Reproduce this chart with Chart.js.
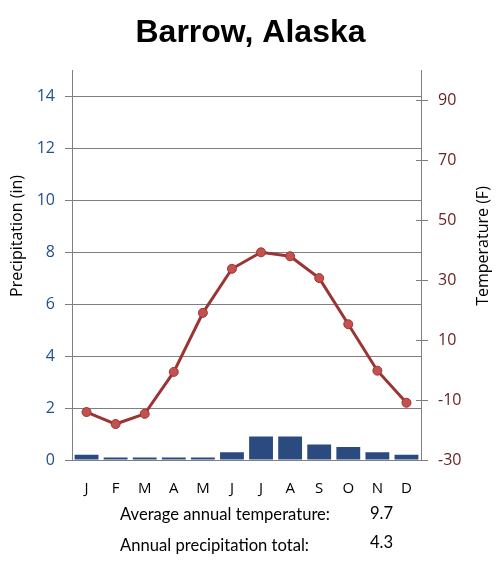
<!DOCTYPE html>
<html>
<head>
<meta charset="utf-8">
<script src="https://cdn.jsdelivr.net/npm/chart.js@4.4.0/dist/chart.umd.min.js"></script>
<style>
    body { margin: 0; background: #fff; }
    #wrap { position: relative; width: 501px; height: 575px; }
    #grafico { position: absolute; left: 0; top: 0; }
    .rodape { position: absolute; font-family: Lato, "Open Sans", sans-serif; font-size: 16.6px; line-height: 20px; color: #000; }
</style>
</head>
<body>
<div id="wrap">
    <canvas id="grafico" width="501" height="575"></canvas>
    <div class="rodape" style="left:120px; top:504px;">Average annual temperature:</div>
    <div class="rodape" style="left:370px; top:503px;">9.7</div>
    <div class="rodape" style="left:120px; top:535px;">Annual precipitation total:</div>
    <div class="rodape" style="left:370px; top:532px;">4.3</div>
</div>
<script>
var meses = ["J", "F", "M", "A", "M", "J", "J", "A", "S", "O", "N", "D"];
var precipitacao = [0.2, 0.1, 0.1, 0.1, 0.1, 0.3, 0.9, 0.9, 0.6, 0.5, 0.3, 0.2];
var temperatura = [-14, -18, -14.6, -0.6, 19.1, 33.8, 39.3, 38, 30.7, 15.3, -0.2, -10.9];
var ticksPrecip = [0, 2, 4, 6, 8, 10, 12, 14];
var ticksTemp = [-30, -10, 10, 30, 50, 70, 90];

// titulos dos eixos, rodados para ler de baixo para cima
// + tracinhos do eixo da direita para dentro da area
var titulosEixos = {
    id: 'titulosEixos',
    afterDraw: function (chart) {
        var ctx = chart.ctx;
        var area = chart.chartArea;
        var eixoT = chart.scales.y2;

        ctx.save();
        ctx.strokeStyle = '#7f7f7f';
        ctx.lineWidth = 1;
        for (var i = 0; i < ticksTemp.length; i++) {
            var py = Math.round(eixoT.getPixelForValue(ticksTemp[i])) + 0.5;
            ctx.beginPath();
            ctx.moveTo(area.right - 5, py);
            ctx.lineTo(area.right, py);
            ctx.stroke();
        }
        ctx.restore();

        ctx.save();
        ctx.fillStyle = '#000';
        ctx.font = '16px "Open Sans"';
        ctx.textAlign = 'center';
        ctx.textBaseline = 'middle';
        ctx.translate(17, 236);
        ctx.rotate(-Math.PI / 2);
        ctx.fillText('Precipitation (in)', 0, 0);
        ctx.restore();

        ctx.save();
        ctx.fillStyle = '#000';
        ctx.font = '16px "Open Sans"';
        ctx.textAlign = 'center';
        ctx.textBaseline = 'middle';
        ctx.translate(483, 246);
        ctx.rotate(-Math.PI / 2);
        ctx.fillText('Temperature (F)', 0, 0);
        ctx.restore();
    }
};

function makeChart() {
    var canvas = document.getElementById("grafico");

    var dataChuva = {
        type: 'bar',
        label: "Precipitation",
        data: precipitacao,
        yAxisID: 'y',
        backgroundColor: '#2a4a80',
        barPercentage: 0.82,
        categoryPercentage: 1,
        order: 2
    };

    var dataTemp = {
        type: 'line',
        label: "Temperature",
        data: temperatura,
        yAxisID: 'y2',
        borderColor: '#9b3533',
        borderWidth: 3,
        pointRadius: 4.5,
        pointBackgroundColor: '#c4514e',
        pointBorderColor: '#9b3533',
        pointBorderWidth: 1,
        tension: 0,
        order: 1
    };

    var corGrelha = '#7f7f7f';

    new Chart(canvas, {
        data: {
            labels: meses,
            datasets: [dataChuva, dataTemp]
        },
        options: {
            responsive: false,
            animation: false,
            layout: { padding: 0 },
            plugins: {
                legend: { display: false },
                tooltip: { enabled: false },
                title: {
                    display: true,
                    text: 'Barrow, Alaska',
                    color: '#000',
                    font: { family: '"Liberation Sans", Arial', size: 32, weight: 'bold', lineHeight: 1.2 },
                    padding: { top: 14, bottom: 18 }
                }
            },
            scales: {
                x: {
                    offset: true,
                    grid: { display: false },
                    border: { color: corGrelha },
                    ticks: { color: '#000', padding: 12, font: { family: '"Open Sans"', size: 15 } },
                    afterFit: function (scale) { scale.height = 115; }
                },
                y: {
                    position: 'left',
                    min: 0,
                    max: 15,
                    grid: { color: corGrelha, tickLength: 7, drawTicks: true },
                    border: { color: corGrelha },
                    ticks: { color: '#1f4f8f', padding: 10, font: { family: '"Open Sans"', size: 16 } },
                    afterBuildTicks: function (scale) {
                        scale.ticks = ticksPrecip.map(function (v) { return { value: v }; });
                    },
                    afterFit: function (scale) { scale.width = 72; }
                },
                y2: {
                    position: 'right',
                    min: -30,
                    max: 100,
                    grid: { drawOnChartArea: false, color: corGrelha, tickLength: 7 },
                    border: { color: corGrelha },
                    ticks: { color: '#6b2424', padding: 10, font: { family: '"Open Sans"', size: 16 } },
                    afterBuildTicks: function (scale) {
                        scale.ticks = ticksTemp.map(function (v) { return { value: v }; });
                    },
                    afterFit: function (scale) { scale.width = 80; }
                }
            }
        },
        plugins: [titulosEixos]
    });
}

document.addEventListener('DOMContentLoaded', makeChart);
</script>
</body>
</html>
